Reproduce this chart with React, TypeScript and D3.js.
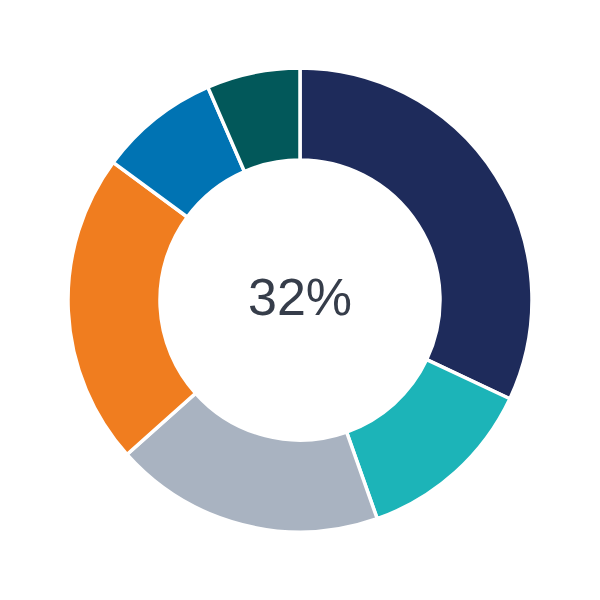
import React from "react";
import * as d3 from "d3";

const categories = ["A", "B", "C", "D", "E", "F"];
const values = [32, 12.6, 18.8, 21.7, 8.4, 6.5];
const colors = ["#1e2b5b", "#1cb4b8", "#a9b3c1", "#f07d1f", "#0073b3", "#02585a"];
const centerLabel = "32%";

export default function App() {
  const width = 600;
  const height = 600;
  const cx = 300;
  const cy = 300;
  const outerR = 232;
  const innerR = 140;

  const pie = d3.pie<number>().sort(null).value((d) => d)(values);
  const arc = d3.arc<d3.PieArcDatum<number>>().innerRadius(innerR).outerRadius(outerR);

  return (
    <svg
      width={width}
      height={height}
      style={{ position: "absolute", left: 0, top: 0, background: "#ffffff" }}
    >
      <g transform={`translate(${cx},${cy})`}>
        {pie.map((p, i) => (
          <path
            key={categories[i]}
            d={arc(p) || ""}
            fill={colors[i]}
            stroke="#ffffff"
            strokeWidth={3.5}
            strokeLinejoin="miter"
          />
        ))}
        <text
          x={0}
          y={15}
          textAnchor="middle"
          fontFamily="Liberation Sans, Arial, sans-serif"
          fontSize={52}
          fill="#363d4a"
        >
          {centerLabel}
        </text>
      </g>
    </svg>
  );
}
